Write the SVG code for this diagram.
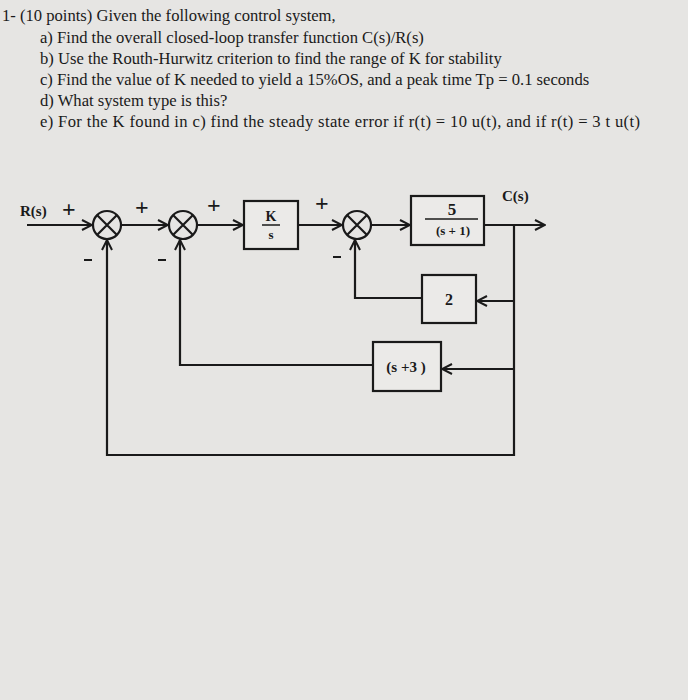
<svg xmlns="http://www.w3.org/2000/svg" width="688" height="700" viewBox="0 0 688 700">
<defs>
<marker id="a" viewBox="0 0 12 12" refX="11" refY="6" markerWidth="12" markerHeight="12" markerUnits="userSpaceOnUse" orient="auto"><path d="M1,1 L11,6 L1,11" fill="none" stroke="#1a1a1a" stroke-width="2"/></marker>
</defs>
<style>
.t{font-family:"Liberation Serif",serif;font-size:16.6px;fill:#1a1a1a}
.b{font-family:"Liberation Serif",serif;font-weight:bold;fill:#1a1a1a}
.w{fill:none;stroke:#1a1a1a;stroke-width:2.2}
.box{fill:#ebeae8;stroke:#1a1a1a;stroke-width:2.2}
</style>
<rect width="688" height="700" fill="#e6e5e3"/>
<text class="t" x="2" y="21">1-  (10 points) Given the following control system,</text>
<text class="t" x="40" y="43">a)  Find the overall closed-loop transfer function C(s)/R(s)</text>
<text class="t" x="40" y="64">b)  Use the Routh-Hurwitz criterion to find the range of K for stability</text>
<text class="t" x="40" y="85">c)  Find the value of  K needed to yield a 15%OS, and a peak time Tp = 0.1 seconds</text>
<text class="t" x="40" y="106">d)  What system type is this?</text>
<text class="t" x="40" y="127" textLength="600">e)  For the K found in c) find the steady state error if  r(t) = 10 u(t),  and if  r(t) = 3 t u(t)</text>
<g id="connectors">
<path class="w" d="M27,225 H92" marker-end="url(#a)"/>
<path class="w" d="M122,225 H168" marker-end="url(#a)"/>
<path class="w" d="M198,225 H243" marker-end="url(#a)"/>
<path class="w" d="M298,225 H342" marker-end="url(#a)"/>
<path class="w" d="M372,225 H410" marker-end="url(#a)"/>
<path class="w" d="M484,225 H545" marker-end="url(#a)"/>
<path class="w" d="M514,225 V455 H107 V240" marker-end="url(#a)"/>
<path class="w" d="M514,301 H477" marker-end="url(#a)"/>
<path class="w" d="M422,298 H355 V240" marker-end="url(#a)"/>
<path class="w" d="M514,369 H442" marker-end="url(#a)"/>
<path class="w" d="M373,365 H180 V240" marker-end="url(#a)"/>
</g>
<g id="sum1"><circle class="w" cx="107" cy="225" r="14"/><path class="w" d="M97,215 L117,235 M117,215 L97,235"/></g>
<g id="sum2"><circle class="w" cx="183" cy="225" r="14"/><path class="w" d="M173,215 L193,235 M193,215 L173,235"/></g>
<g id="sum3"><circle class="w" cx="357" cy="225" r="14"/><path class="w" d="M347,215 L367,235 M367,215 L347,235"/></g>
<g id="ks"><rect class="box" x="244" y="201" width="54" height="48"/><text class="b" x="271" y="221" font-size="14" text-anchor="middle">K</text><path d="M262,225 H280" stroke="#1a1a1a" stroke-width="1.5"/><text class="b" x="271" y="239" font-size="13" text-anchor="middle">s</text></g>
<g id="g5"><rect class="box" x="411" y="196" width="73" height="49"/><text class="b" x="452" y="215" font-size="17" text-anchor="middle">5</text><path d="M425,219 H478" stroke="#1a1a1a" stroke-width="1.5"/><text class="b" x="453" y="235" font-size="13" text-anchor="middle">(s + 1)</text></g>
<g id="g2"><rect class="box" x="422" y="275" width="54" height="48"/><text class="b" x="449" y="305" font-size="16" text-anchor="middle">2</text></g>
<g id="gs3"><rect class="box" x="373" y="342" width="68" height="49"/><text class="b" x="406" y="372" font-size="15" text-anchor="middle">(s +3 )</text></g>
<text class="b" x="20" y="216" font-size="15">R(s)</text>
<text class="b" x="62" y="217" font-size="24">+</text>
<text class="b" x="135" y="215" font-size="24">+</text>
<text class="b" x="207" y="213" font-size="24">+</text>
<text class="b" x="315" y="211" font-size="24">+</text>
<path class="w" d="M84,260 H92 M158,260 H166 M333,257 H341"/>
<text class="b" x="502" y="201" font-size="15">C(s)</text>
</svg>
